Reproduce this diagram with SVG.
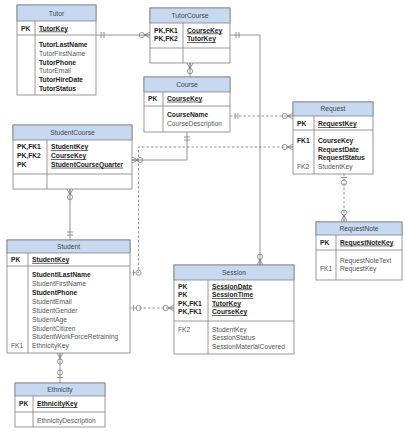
<svg xmlns="http://www.w3.org/2000/svg" xmlns:xlink="http://www.w3.org/1999/xlink" width="407" height="448" viewBox="0 0 407 448">
<style>
text{font-family:"Liberation Sans",Arial,sans-serif;font-size:6.7px;fill:#555}
.h{text-anchor:middle;fill:#444}
.b{font-weight:bold;fill:#222}
.u{text-decoration:underline}
.box{fill:#fff;stroke:#808080;stroke-width:0.8}
.hd{fill:#c6d9f1;stroke:#808080;stroke-width:0.8}
.ln{stroke:#808080;stroke-width:0.8;fill:none}
.cn{stroke:#7a7a7a;stroke-width:0.8;fill:none}
.dash{stroke-dasharray:2.5,2}
.sym{stroke:#7a7a7a;stroke-width:0.8;fill:none}
.sym circle{fill:#fff}
</style>
<defs>
<g id="zm"><path d="M-5.5,0 L0,-3 M-5.5,0 L0,0 M-5.5,0 L0,3"/><circle cx="-8.2" cy="0" r="2.6"/></g>
<g id="oo"><path d="M-5,-3 V3 M-8,-3 V3"/></g>
<g id="zo"><path d="M-3.5,-3 V3"/><circle cx="-8.5" cy="0" r="2.6"/></g>
<g id="zmx"><path d="M-5.5,0 L0,-3 M-5.5,0 L0,0 M-5.5,0 L0,3"/><circle cx="-8.5" cy="0" r="2.6"/></g>
</defs>

<g id="connectors">
<path class="cn" d="M96,35 H150"/>
<path class="cn" d="M190,63 V77"/>
<path class="cn" d="M230,35 H260 V265"/>
<path class="cn dash" d="M230,116 H293"/>
<path class="cn" d="M187,132 V160 H132"/>
<path class="cn dash" d="M293,147 H138.5 V272.7 H130"/>
<path class="cn dash" d="M130,308 H174"/>
<path class="cn" d="M70,189 V240"/>
<path class="cn" d="M60,353 V383"/>
<path class="cn dash" d="M344,174 V222"/>
<g class="sym">
<use xlink:href="#oo" transform="translate(96,35) rotate(180)"/>
<use xlink:href="#zm" transform="translate(150,35)"/>
<use xlink:href="#zm" transform="translate(190,63) rotate(-90)"/>
<use xlink:href="#oo" transform="translate(230,35) rotate(180) translate(-1,0)"/>
<use xlink:href="#zm" transform="translate(260,265) rotate(90)"/>
<use xlink:href="#oo" transform="translate(230,116) rotate(180)"/>
<use xlink:href="#zm" transform="translate(293,116)"/>
<use xlink:href="#oo" transform="translate(187,132) rotate(-90)"/>
<use xlink:href="#zm" transform="translate(132,160) rotate(180)"/>
<use xlink:href="#zm" transform="translate(293,147)"/>
<use xlink:href="#zo" transform="translate(130,272.7) rotate(180)"/>
<use xlink:href="#zo" transform="translate(130,308) rotate(180)"/>
<use xlink:href="#zm" transform="translate(174,308)"/>
<use xlink:href="#zm" transform="translate(70,189) rotate(-90)"/>
<use xlink:href="#oo" transform="translate(70,240) rotate(90)"/>
<use xlink:href="#zmx" transform="translate(60,353) rotate(-90)"/>
<use xlink:href="#zo" transform="translate(60,383) rotate(90) translate(-2,0)"/>
<use xlink:href="#zo" transform="translate(344,174) rotate(-90)"/>
<use xlink:href="#zmx" transform="translate(344,222) rotate(90) translate(-1,0)"/>
</g>
</g>

<g id="Tutor">
<rect class="box" x="17" y="5" width="79" height="90"/>
<rect class="hd" x="17" y="5" width="79" height="16"/>
<path class="ln" d="M17,35 H96 M35,21 V95"/>
<text class="h" x="56.5" y="15.5">Tutor</text>
<text class="b" x="21" y="30.5">PK</text>
<text class="b u" x="39" y="30.5">TutorKey</text>
<text class="b" x="39" y="47.1">TutorLastName</text>
<text x="39" y="55.8">TutorFirstName</text>
<text class="b" x="39" y="64.6">TutorPhone</text>
<text x="39" y="73.3">TutorEmail</text>
<text class="b" x="39" y="82.1">TutorHireDate</text>
<text class="b" x="39" y="90.8">TutorStatus</text>
</g>

<g id="TutorCourse">
<rect class="box" x="150" y="8" width="80" height="55"/>
<rect class="hd" x="150" y="8" width="80" height="15"/>
<path class="ln" d="M150,48 H230 M183,23 V63"/>
<text class="h" x="190" y="17.5">TutorCourse</text>
<text class="b" x="154" y="32.5">PK,FK1</text>
<text class="b u" x="187" y="32.5">CourseKey</text>
<text class="b" x="154" y="41.2">PK,FK2</text>
<text class="b u" x="187" y="41.2">TutorKey</text>
</g>

<g id="Course">
<rect class="box" x="144" y="77" width="86" height="55"/>
<rect class="hd" x="144" y="77" width="86" height="15"/>
<path class="ln" d="M144,106 H230 M163,92 V132"/>
<text class="h" x="187" y="87">Course</text>
<text class="b" x="148" y="100.7">PK</text>
<text class="b u" x="167" y="100.7">CourseKey</text>
<text class="b" x="167" y="117.4">CourseName</text>
<text x="167" y="126.1">CourseDescription</text>
</g>

<g id="Request">
<rect class="box" x="293" y="102" width="80" height="72"/>
<rect class="hd" x="293" y="102" width="80" height="14"/>
<path class="ln" d="M293,130 H373 M314,116 V174"/>
<text class="h" x="333" y="111.4">Request</text>
<text class="b" x="297" y="126">PK</text>
<text class="b u" x="318" y="126">RequestKey</text>
<text class="b" x="297" y="143.4">FK1</text>
<text class="b" x="318" y="143.4">CourseKey</text>
<text class="b" x="318" y="151.9">RequestDate</text>
<text class="b" x="318" y="160.4">RequestStatus</text>
<text x="297" y="169">FK2</text>
<text x="318" y="169">StudentKey</text>
</g>

<g id="StudentCourse">
<rect class="box" x="13" y="125" width="119" height="64"/>
<rect class="hd" x="13" y="125" width="119" height="15"/>
<path class="ln" d="M13,174 H132 M47,140 V189"/>
<text class="h" x="72.5" y="135">StudentCourse</text>
<text class="b" x="17" y="149.4">PK,FK1</text>
<text class="b u" x="51" y="149.4">StudentKey</text>
<text class="b" x="17" y="158">PK,FK2</text>
<text class="b u" x="51" y="158">CourseKey</text>
<text class="b" x="17" y="166.7">PK</text>
<text class="b u" x="51" y="166.7">StudentCourseQuarter</text>
</g>

<g id="RequestNote">
<rect class="box" x="316" y="222" width="86" height="58"/>
<rect class="hd" x="316" y="222" width="86" height="13"/>
<path class="ln" d="M316,250 H402 M336,235 V280"/>
<text class="h" x="359" y="230.8">RequestNote</text>
<text class="b" x="320" y="244.6">PK</text>
<text class="b u" x="340" y="244.6">RequestNoteKey</text>
<text x="340" y="263.4">RequestNoteText</text>
<text x="320" y="270.9">FK1</text>
<text x="340" y="270.9">RequestKey</text>
</g>

<g id="Student">
<rect class="box" x="7" y="240" width="123" height="113"/>
<rect class="hd" x="7" y="240" width="123" height="13"/>
<path class="ln" d="M7,266 H130 M28,253 V353"/>
<text class="h" x="68.5" y="248.5">Student</text>
<text class="b" x="11" y="261.9">PK</text>
<text class="b u" x="32" y="261.9">StudentKey</text>
<text class="b" x="32" y="277.4">StudentlLastName</text>
<text x="32" y="286.3">StudentFirstName</text>
<text class="b" x="32" y="295.1">StudentPhone</text>
<text x="32" y="304">StudentEmail</text>
<text x="32" y="312.8">StudentGender</text>
<text x="32" y="321.7">StudentAge</text>
<text x="32" y="330.5">StudentCitizen</text>
<text x="32" y="339.4">StudentWorkForceRetraining</text>
<text x="11" y="348.2">FK1</text>
<text x="32" y="348.2">EthnicityKey</text>
</g>

<g id="Session">
<rect class="box" x="174" y="265" width="120" height="89"/>
<rect class="hd" x="174" y="265" width="120" height="15"/>
<path class="ln" d="M174,321 H294 M208,280 V354"/>
<text class="h" x="234" y="275">Session</text>
<text class="b" x="178" y="288.5">PK</text>
<text class="b u" x="212" y="288.5">SessionDate</text>
<text class="b" x="178" y="297">PK</text>
<text class="b u" x="212" y="297">SessionTime</text>
<text class="b" x="178" y="305.5">PK,FK1</text>
<text class="b u" x="212" y="305.5">TutorKey</text>
<text class="b" x="178" y="314">PK,FK1</text>
<text class="b u" x="212" y="314">CourseKey</text>
<text x="178" y="331.7">FK2</text>
<text x="212" y="331.7">StudentKey</text>
<text x="212" y="340.2">SessionStatus</text>
<text x="212" y="348.9">SessionMaterialCovered</text>
</g>

<g id="Ethnicity">
<rect class="box" x="15" y="383" width="90" height="44"/>
<rect class="hd" x="15" y="383" width="90" height="13"/>
<path class="ln" d="M15,412 H105 M33,396 V427"/>
<text class="h" x="60" y="391.5">Ethnicity</text>
<text class="b" x="19" y="406">PK</text>
<text class="b u" x="37" y="406">EthnicityKey</text>
<text x="37" y="422.5">EthnicityDescription</text>
</g>
</svg>
